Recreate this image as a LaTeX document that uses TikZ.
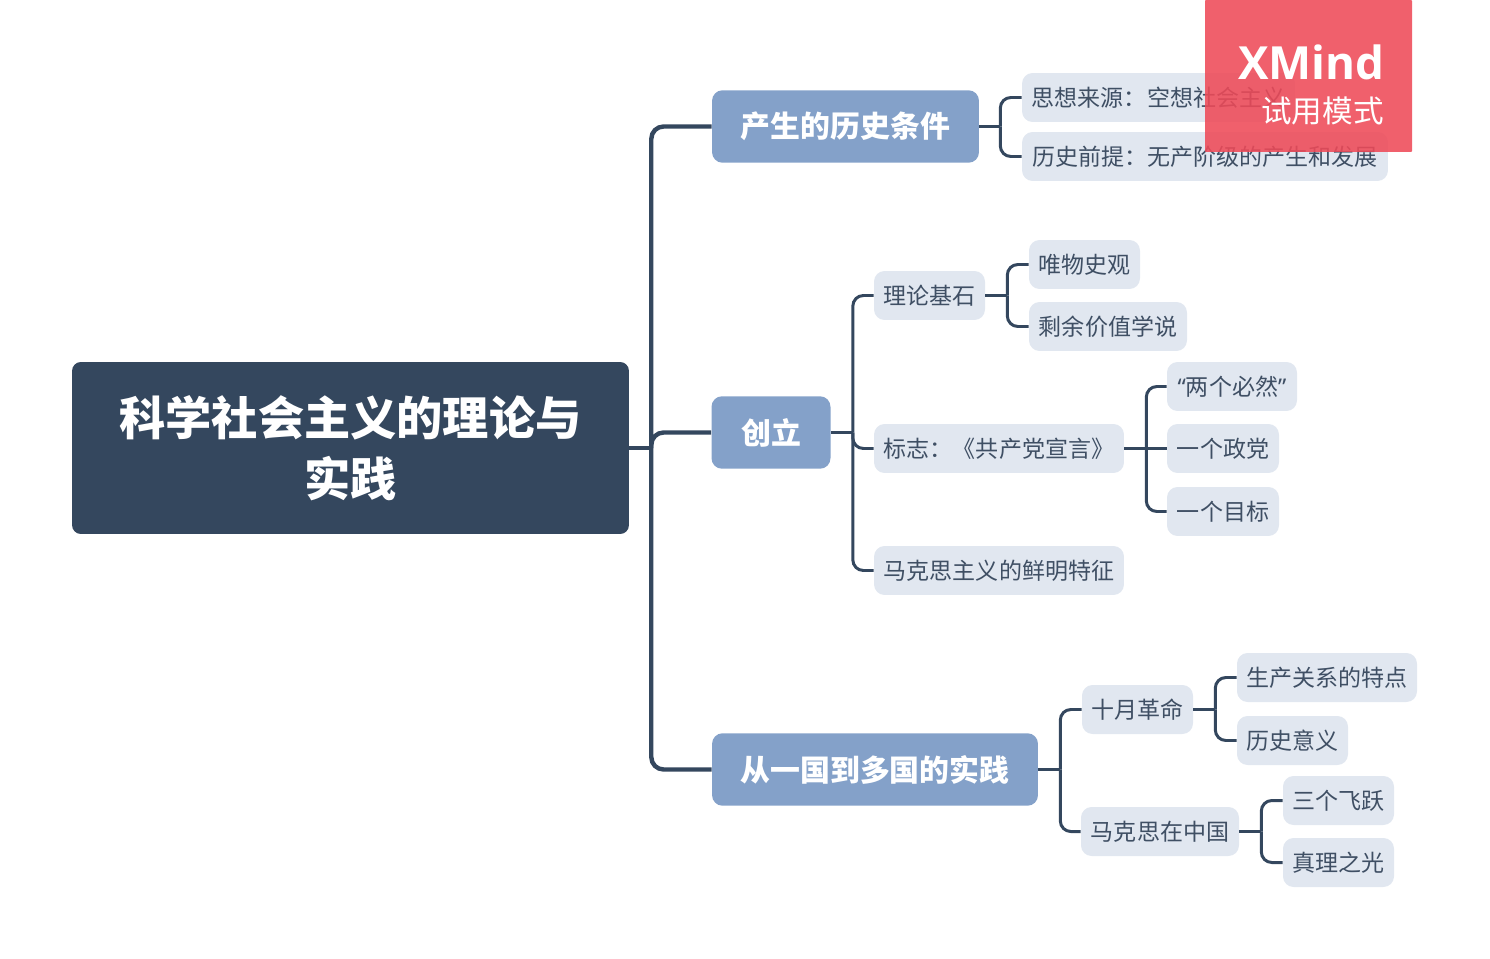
\documentclass[tikz,border=0pt]{standalone}
\usepackage{fontspec}
\usepackage{xcolor}
\setmainfont{Noto Sans CJK SC}
\newfontfamily\latinfont{Noto Sans}
\newfontfamily\markfont{Open Sans}
\definecolor{rootblue}{HTML}{34475E}
\definecolor{branchblue}{HTML}{84A1C9}
\definecolor{leafgray}{HTML}{E1E7F0}
\definecolor{leaftext}{HTML}{3F4F64}
\definecolor{markred}{HTML}{EE4A58}
\tikzset{
  rootnode/.style={fill=rootblue, text=white, rounded corners=5pt, inner sep=0pt, align=center, yshift=-0.01cm, font=\fontsize{26.3}{34.5}\selectfont\bfseries},
  branchnode/.style={fill=branchblue, text=white, rounded corners=6pt, inner sep=0pt, minimum height=1.45cm, yshift=-0.01cm, font=\fontsize{17}{20}\selectfont\bfseries},
  leafnode/.style={fill=leafgray, text=leaftext, rounded corners=6pt, inner sep=0pt, minimum height=0.98cm, yshift=-0.01cm, font=\fontsize{13.1}{16}\selectfont},
  thickconn/.style={draw=rootblue, line width=2.5pt, rounded corners=7pt},
  thinconn/.style={draw=rootblue, line width=1.7pt, rounded corners=6pt}
}
\begin{document}
\begin{tikzpicture}[x=0.02cm, y=-0.02cm]
  \useasboundingbox (0,0) rectangle (1490,959);
  \node[rootnode, minimum width=11.14cm, minimum height=3.44cm] (root) at (350.5,447.5) {科学社会主义的理论与\\实践};
  \node[branchnode, minimum width=5.34cm] (history) at (845.5,126) {产生的历史条件};
  \node[branchnode, minimum width=2.38cm] (found) at (771,432) {创立};
  \node[branchnode, minimum width=6.52cm] (practice) at (875,769) {从一国到多国的实践};
  \node[leafnode, minimum width=5.46cm] (source) at (1158.5,97) {思想来源：空想社会主义};
  \node[leafnode, minimum width=7.32cm] (premise) at (1205,156) {历史前提：无产阶级的产生和发展};
  \node[leafnode, minimum width=2.22cm] (theory) at (929.5,295) {理论基石};
  \node[leafnode, minimum width=2.22cm] (material) at (1084.5,264) {唯物史观};
  \node[leafnode, minimum width=3.16cm] (surplus) at (1108,326) {剩余价值学说};
  \node[leafnode, minimum width=5cm] (mark) at (999,448) {标志：《共产党宣言》};
  \node[leafnode, minimum width=2.6cm] (two) at (1232,386) {{\latinfont “}两个必然{\latinfont ”}};
  \node[leafnode, minimum width=2.24cm] (party) at (1223,448) {一个政党};
  \node[leafnode, minimum width=2.24cm] (goal) at (1223,511) {一个目标};
  \node[leafnode, minimum width=5cm] (feature) at (999,570) {马克思主义的鲜明特征};
  \node[leafnode, minimum width=2.22cm] (october) at (1137.5,709) {十月革命};
  \node[leafnode, minimum width=3.6cm] (relation) at (1327,677) {生产关系的特点};
  \node[leafnode, minimum width=2.22cm] (meaning) at (1292.5,740) {历史意义};
  \node[leafnode, minimum width=3.16cm] (china) at (1160,831) {马克思在中国};
  \node[leafnode, minimum width=2.22cm] (leap) at (1338.5,800) {三个飞跃};
  \node[leafnode, minimum width=2.22cm] (truth) at (1338.5,862) {真理之光};
  \coordinate (rootbus) at ([xshift=0.44cm]root.east);
  \coordinate (historybus) at ([xshift=0.42cm]history.east);
  \coordinate (foundbus) at ([xshift=0.44cm]found.east);
  \coordinate (theorybus) at ([xshift=0.44cm]theory.east);
  \coordinate (markbus) at ([xshift=0.44cm]mark.east);
  \coordinate (practicebus) at ([xshift=0.44cm]practice.east);
  \coordinate (octoberbus) at ([xshift=0.44cm]october.east);
  \coordinate (chinabus) at ([xshift=0.44cm]china.east);
  \draw[thickconn] (root.east) -- (rootbus);
  \draw[thickconn] (rootbus) |- (history.west);
  \draw[thickconn] (rootbus) |- (found.west);
  \draw[thickconn] (rootbus) |- (practice.west);
  \draw[thinconn] (history.east) -- (historybus);
  \draw[thinconn] (historybus) |- (source.west);
  \draw[thinconn] (historybus) |- (premise.west);
  \draw[thinconn] (found.east) -- (foundbus);
  \draw[thinconn] (foundbus) |- (theory.west);
  \draw[thinconn] (foundbus) |- (mark.west);
  \draw[thinconn] (foundbus) |- (feature.west);
  \draw[thinconn] (theory.east) -- (theorybus);
  \draw[thinconn] (theorybus) |- (material.west);
  \draw[thinconn] (theorybus) |- (surplus.west);
  \draw[thinconn] (mark.east) -- (party.west);
  \draw[thinconn] (markbus) |- (two.west);
  \draw[thinconn] (markbus) |- (goal.west);
  \draw[thinconn] (practice.east) -- (practicebus);
  \draw[thinconn] (practicebus) |- (october.west);
  \draw[thinconn] (practicebus) |- (china.west);
  \draw[thinconn] (october.east) -- (octoberbus);
  \draw[thinconn] (octoberbus) |- (relation.west);
  \draw[thinconn] (octoberbus) |- (meaning.west);
  \draw[thinconn] (china.east) -- (chinabus);
  \draw[thinconn] (chinabus) |- (leap.west);
  \draw[thinconn] (chinabus) |- (truth.west);
  \node[fill=markred, opacity=0.88, inner sep=0pt, minimum width=4.14cm, minimum height=3.04cm, rounded corners=0.5pt] (markbox) at (1308.5,76) {};
  \node[text=white, anchor=base east, inner sep=0pt, font=\fontsize{26}{30}\selectfont\markfont\bfseries] (xmind) at (1385,80) {XMind};
  \node[text=white, anchor=base east, inner sep=0pt, font=\fontsize{17.4}{20}\selectfont] (trial) at (1384,122.5) {试用模式};
\end{tikzpicture}
\end{document}
